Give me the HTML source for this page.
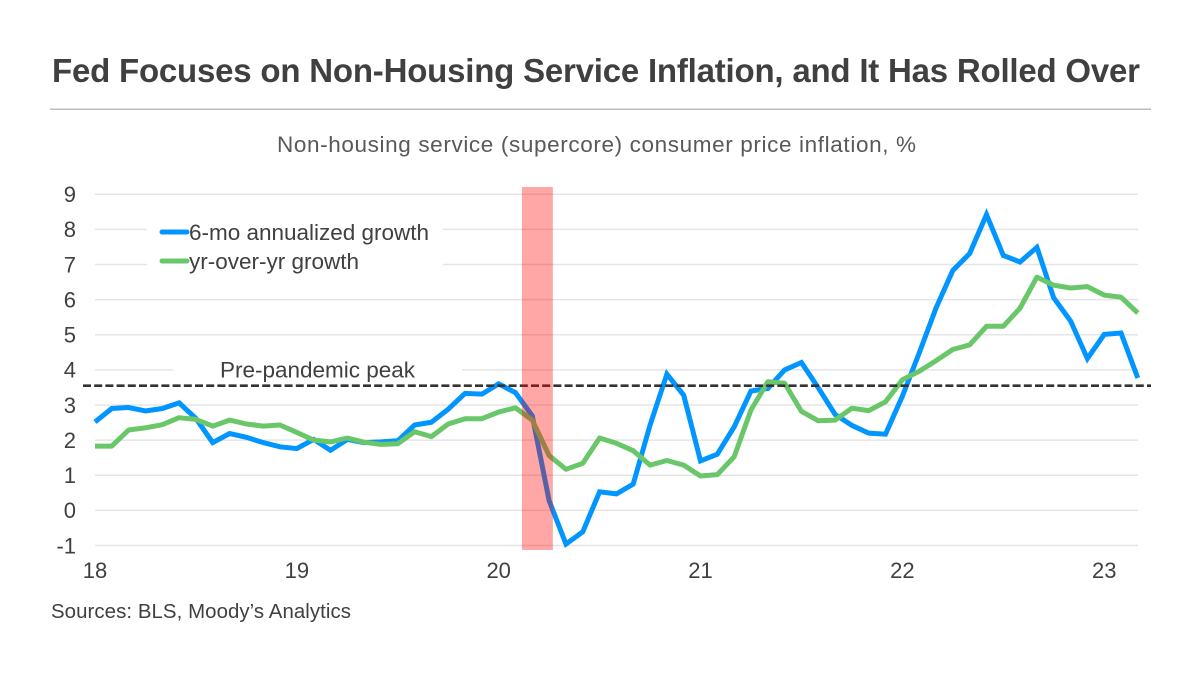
<!DOCTYPE html>
<html lang="en">
<head>
<meta charset="utf-8">
<title>Fed Focuses on Non-Housing Service Inflation</title>
<style>
html,body{margin:0;padding:0;background:#fff;width:1200px;height:675px;overflow:hidden}
svg{display:block}
text{font-family:"Liberation Sans",Arial,sans-serif}
</style>
</head>
<body>
<svg id="chart" xmlns="http://www.w3.org/2000/svg" width="1200" height="675" viewBox="0 0 1200 675">
  <rect x="0" y="0" width="1200" height="675" fill="#fff"/>
  <text x="52" y="82" font-size="33" font-weight="700" fill="#404040" textLength="1088" lengthAdjust="spacing">Fed Focuses on Non-Housing Service Inflation, and It Has Rolled Over</text>
  <rect x="50" y="108.5" width="1101" height="1.5" fill="#bdbdbd"/>
  <text x="277" y="152" font-size="22.5" fill="#595959" textLength="639" lengthAdjust="spacing">Non-housing service (supercore) consumer price inflation, %</text>
  <g id="grid"></g>
  <g id="yticks"></g>
  <g id="xticks"></g>
  <rect x="147" y="218" width="296" height="54" fill="#fff"/>
  <rect x="173" y="358" width="289" height="24" fill="#fff"/>
  <g id="series"></g>
  <g id="overlay"></g>
  <text x="220" y="377.5" font-size="22.5" fill="#404040" textLength="195" lengthAdjust="spacing">Pre-pandemic peak</text>
  <g>
    <line x1="162" y1="232" x2="187" y2="232" stroke="#0095ff" stroke-width="5" stroke-linecap="round"/>
    <text x="189" y="240" font-size="22.5" fill="#404040" textLength="240" lengthAdjust="spacing">6-mo annualized growth</text>
    <line x1="162" y1="261" x2="187" y2="261" stroke="#69c769" stroke-width="5" stroke-linecap="round"/>
    <text x="189" y="269" font-size="22.5" fill="#404040" textLength="170" lengthAdjust="spacing">yr-over-yr growth</text>
  </g>
  <text x="51" y="618" font-size="20.4" fill="#404040" textLength="300" lengthAdjust="spacing">Sources: BLS, Moody’s Analytics</text>
</svg>
<script>
var sixMonth = [2.52,2.90,2.93,2.83,2.90,3.06,2.62,1.93,2.19,2.08,1.93,1.81,1.76,2.02,1.71,2.02,1.93,1.95,1.98,2.43,2.51,2.88,3.33,3.31,3.60,3.35,2.69,0.28,-0.96,-0.61,0.53,0.47,0.75,2.43,3.88,3.28,1.41,1.60,2.38,3.40,3.47,4.00,4.21,3.49,2.73,2.42,2.20,2.17,3.25,4.48,5.76,6.83,7.31,8.42,7.26,7.07,7.49,6.05,5.39,4.32,5.01,5.05,3.77];
var yearOverYear = [1.83,1.83,2.29,2.35,2.44,2.64,2.59,2.40,2.57,2.46,2.40,2.43,2.22,2.00,1.95,2.06,1.94,1.88,1.90,2.24,2.10,2.46,2.61,2.61,2.80,2.92,2.57,1.56,1.17,1.34,2.06,1.91,1.70,1.29,1.42,1.29,0.98,1.02,1.53,2.86,3.66,3.62,2.82,2.55,2.57,2.91,2.84,3.09,3.72,3.96,4.26,4.58,4.71,5.24,5.24,5.76,6.64,6.41,6.33,6.37,6.13,6.07,5.62];
var yTicks = [-1,0,1,2,3,4,5,6,7,8,9];
var xTickYears = ["18","19","20","21","22","23"];
var xTickMonths = [0,12,24,36,48,60];
var peakValue = 3.55;
var recessionStart = 25.38;
var recessionEnd = 27.22;

var NS = 'http://www.w3.org/2000/svg';
function x(i){ return 95 + i * 16.82; }
function y(v){ return 510.4 - v * 35.13; }
function make(tag, attrs, parent){
  var el = document.createElementNS(NS, tag);
  for (var k in attrs) { el.setAttribute(k, attrs[k]); }
  parent.appendChild(el);
  return el;
}
var grid = document.getElementById('grid');
var yt = document.getElementById('yticks');
var xt = document.getElementById('xticks');
var series = document.getElementById('series');
var overlay = document.getElementById('overlay');

yTicks.forEach(function(v){
  var g = make('line', {x1:95, x2:1138, y1:y(v), y2:y(v), stroke:'#e5e5e5', 'stroke-width':1.5}, grid);
  
  
  var t = make('text', {x:76, y:y(v)+7.8, 'text-anchor':'end', 'font-size':22, fill:'#404040'}, yt);
  
  
  t.textContent = v;
});
xTickYears.forEach(function(label, idx){
  var t = make('text', {x:x(xTickMonths[idx]), y:578, 'text-anchor':'middle', 'font-size':22, fill:'#404040'}, xt);
  
  
  t.textContent = label;
});
function pts(arr){
  return arr.map(function(v,i){ return x(i).toFixed(1) + ',' + y(v).toFixed(1); }).join(' ');
}
var blue = make('polyline', {points:pts(sixMonth), fill:'none', stroke:'#0095ff', 'stroke-width':5, 'stroke-linejoin':'miter'}, series);


var green = make('polyline', {points:pts(yearOverYear), fill:'none', stroke:'#69c769', 'stroke-width':5, 'stroke-linejoin':'round'}, series);



var peak = make('line', {x1:83, x2:1151, y1:y(peakValue), y2:y(peakValue), stroke:'#333', 'stroke-width':2.6, 'stroke-dasharray':'8 3.2'}, overlay);


var band = make('rect', {x:x(recessionStart), y:187, width:x(recessionEnd)-x(recessionStart), height:363, fill:'#ff0000', 'fill-opacity':0.35}, overlay);


</script>
</body>
</html>
